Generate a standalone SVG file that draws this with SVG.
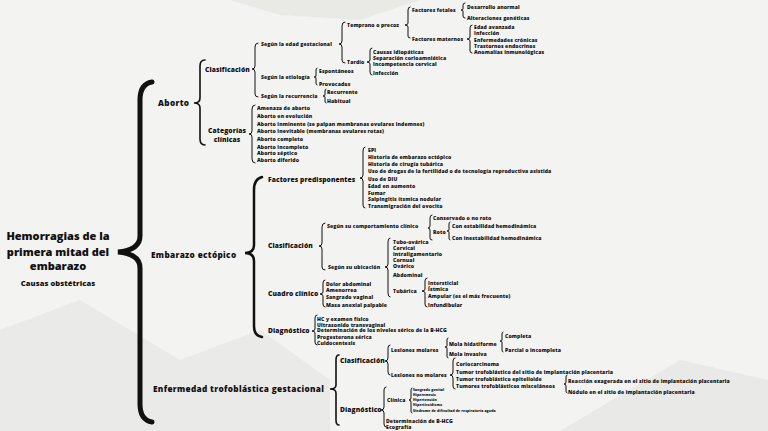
<svg xmlns="http://www.w3.org/2000/svg" width="768" height="431" viewBox="0 0 768 431">
<style>
text{font-family:"Open Sans","Liberation Sans",sans-serif;font-weight:800;fill:#111}
.s{font-size:5.1px;letter-spacing:0.12px}
.xs{font-size:3.4px;letter-spacing:0.1px}
.m{font-size:6.7px;letter-spacing:0.1px}
.l{font-size:8.2px;letter-spacing:0.35px}
.t{font-size:11px}
.b{fill:none;stroke:#111;stroke-width:1;stroke-linecap:round}
</style>
<rect width="768" height="431" fill="#f3f3f1"/>
<polygon points="0,330 80,300 180,360 260,330 330,380 330,431 0,431" fill="#e6e6e4" opacity="0.7"/>
<polygon points="560,431 680,360 768,380 768,431" fill="#e4e4e2" opacity="0.7"/>
<polygon points="230,0 420,0 360,20 280,15" fill="#e2e2e0" opacity="0.6"/>
<g id="connectors">
<path class="b" style="stroke-width:5" d="M152 82 Q140 84 140 100 L140 236 Q140 250 118 252 Q140 254 140 268 L140 404 Q140 420 152 422"/>
<path class="b" style="stroke-width:1.6" d="M205 60 Q200 60 200 66 L200 98 Q200 103 194 103 Q200 103 200 108 L200 139 Q200 145 205 145"/>
<path class="b" d="M258 43 Q255 43 255 47 L255 66 Q255 69 252 69 Q255 69 255 72 L255 94 Q255 97 258 97"/>
<path class="b" d="M345 22 Q342 22 342 26 L342 41 Q342 44 339 44 Q342 44 342 47 L342 60 Q342 63 345 63"/>
<path class="b" d="M410 7 Q408 7 408 10 L408 23 Q408 25 405 25 Q408 25 408 27 L408 36 Q408 38 410 38"/>
<path class="b" d="M465 3 Q463 3 463 5 L463 9 Q463 10 461 10 Q463 10 463 11 L463 16 Q463 18 465 18"/>
<path class="b" d="M472 25 Q470 25 470 28 L470 37 Q470 39 467 39 Q470 39 470 41 L470 51 Q470 53 472 53"/>
<path class="b" d="M372 48 Q370 48 370 51 L370 60 Q370 62 367 62 Q370 62 370 64 L370 72 Q370 75 372 75"/>
<path class="b" d="M317 68 Q316 68 316 70 L316 76 Q316 77 314 77 Q316 77 316 78 L316 83 Q316 85 317 85"/>
<path class="b" d="M326 89 Q325 89 325 91 L325 95 Q325 96 323 96 Q325 96 325 97 L325 101 Q325 103 326 103"/>
<path class="b" d="M255 105 Q252 105 252 109 L252 131 Q252 134 249 134 Q252 134 252 137 L252 159 Q252 163 255 163"/>
<path class="b" style="stroke-width:2.5" d="M262 177 Q254 179 254 190 L254 245 Q254 253 245 253 Q254 253 254 261 L254 326 Q254 336 262 337"/>
<path class="b" d="M365 147 Q363 147 363 151 L363 175 Q363 178 360 178 Q363 178 363 181 L363 205 Q363 208 365 208"/>
<path class="b" d="M325 223 Q322 223 322 227 L322 243 Q322 246 319 246 Q322 246 322 249 L322 267 Q322 270 325 270"/>
<path class="b" d="M432 215 Q430 215 430 218 L430 226 Q430 228 428 228 Q430 228 430 230 L430 238 Q430 240 432 240"/>
<path class="b" d="M450 222 Q449 222 449 224 L449 230 Q449 231 447 231 Q449 231 449 232 L449 238 Q449 240 450 240"/>
<path class="b" d="M390 238 Q388 238 388 242 L388 264 Q388 267 385 267 Q388 267 388 270 L388 293 Q388 297 390 297"/>
<path class="b" d="M427 278 Q425 278 425 281 L425 289 Q425 291 422 291 Q425 291 425 293 L425 304 Q425 307 427 307"/>
<path class="b" d="M325 280 Q323 280 323 283 L323 292 Q323 294 320 294 Q323 294 323 296 L323 304 Q323 307 325 307"/>
<path class="b" d="M317 315 Q315 315 315 318 L315 329 Q315 331 312 331 Q315 331 315 333 L315 342 Q315 345 317 345"/>
<path class="b" style="stroke-width:1.6" d="M339 355 Q336 355 336 360 L336 385 Q336 389 330 389 Q336 389 336 393 L336 420 Q336 425 339 425"/>
<path class="b" d="M390 345 Q388 345 388 348 L388 358 Q388 361 385 361 Q388 361 388 364 L388 372 Q388 375 390 375"/>
<path class="b" d="M448 338 Q447 338 447 340 L447 346 Q447 347 445 347 Q447 347 447 348 L447 356 Q447 358 448 358"/>
<path class="b" d="M503 332 Q502 332 502 334 L502 340 Q502 341 500 341 Q502 341 502 342 L502 350 Q502 352 503 352"/>
<path class="b" d="M455 358 Q453 358 453 361 L453 372 Q453 375 450 375 Q453 375 453 378 L453 386 Q453 389 455 389"/>
<path class="b" d="M567 375 Q566 375 566 377 L566 382 Q566 384 564 384 Q566 384 566 386 L566 391 Q566 393 567 393"/>
<path class="b" d="M386 387 Q384 387 384 390 L384 407 Q384 410 381 410 Q384 410 384 413 L384 424 Q384 427 386 427"/>
<path class="b" d="M412 388 Q411 388 411 390 L411 398 Q411 400 409 400 Q411 400 411 402 L411 411 Q411 413 412 413"/>
</g>
<g id="title">
<text class="t" x="58" y="240" text-anchor="middle">Hemorragias de la</text>
<text class="t" x="58" y="256" text-anchor="middle">primera mitad del</text>
<text class="t" x="58" y="270" text-anchor="middle">embarazo</text>
<text class="m" x="58" y="286" text-anchor="middle" style="font-size:7.5px">Causas obstétricas</text>
</g>
<g id="aborto">
<text class="l" x="158" y="106">Aborto</text>
<text class="m" x="205" y="72">Clasificación</text>
<text class="s" x="261" y="46">Según la edad gestacional</text>
<text class="s" x="347" y="27">Temprano o precoz</text>
<text class="s" x="412" y="12">Factores fetales</text>
<text class="s" x="467" y="9">Desarrollo anormal</text>
<text class="s" x="467" y="20">Alteraciones genéticas</text>
<text class="s" x="412" y="41">Factores maternos</text>
<text class="s" x="474" y="29">Edad avanzada</text>
<text class="s" x="474" y="35">Infección</text>
<text class="s" x="474" y="42">Enfermedades crónicas</text>
<text class="s" x="474" y="48">Trastornos endocrinos</text>
<text class="s" x="474" y="54">Anomalías inmunológicas</text>
<text class="s" x="347" y="64">Tardío</text>
<text class="s" x="373" y="54">Causas idiopáticas</text>
<text class="s" x="373" y="60">Separación corioamniótica</text>
<text class="s" x="373" y="66">Incompetencia cervical</text>
<text class="s" x="373" y="75">Infección</text>
<text class="s" x="261" y="79">Según la etiología</text>
<text class="s" x="319" y="73">Espontáneos</text>
<text class="s" x="319" y="86">Provocados</text>
<text class="s" x="261" y="98">Según la recurrencia</text>
<text class="s" x="327" y="94">Recurrente</text>
<text class="s" x="327" y="103">Habitual</text>
<text class="m" x="227" y="133" text-anchor="middle">Categorías</text>
<text class="m" x="227" y="142" text-anchor="middle">clínicas</text>
<text class="s" x="257" y="110">Amenaza de aborto</text>
<text class="s" x="257" y="118">Aborto en evolución</text>
<text class="s" x="257" y="126">Aborto inminente (se palpan membranas ovulares indemnes)</text>
<text class="s" x="257" y="133">Aborto inevitable (membranas ovulares rotas)</text>
<text class="s" x="257" y="141">Aborto completo</text>
<text class="s" x="257" y="149">Aborto incompleto</text>
<text class="s" x="257" y="155">Aborto séptico</text>
<text class="s" x="257" y="162">Aborto diferido</text>
</g>
<g id="ectopico">
<text class="l" x="151" y="258">Embarazo ectópico</text>
<text class="m" x="268" y="182">Factores predisponentes</text>
<text class="s" x="368" y="152">EPI</text>
<text class="s" x="368" y="159">Historia de embarazo ectópico</text>
<text class="s" x="368" y="166">Historia de cirugía tubárica</text>
<text class="s" x="368" y="173">Uso de drogas de la fertilidad o de tecnología reproductiva asistida</text>
<text class="s" x="368" y="181">Uso de DIU</text>
<text class="s" x="368" y="188">Edad en aumento</text>
<text class="s" x="368" y="195">Fumar</text>
<text class="s" x="368" y="201">Salpingitis ítsmica nodular</text>
<text class="s" x="368" y="208">Transmigración del ovocito</text>
<text class="m" x="268" y="248">Clasificación</text>
<text class="s" x="327" y="228">Según su comportamiento clínico</text>
<text class="s" x="433" y="220">Conservado o no roto</text>
<text class="s" x="433" y="234">Roto</text>
<text class="s" x="452" y="228">Con estabilidad hemodinámica</text>
<text class="s" x="452" y="240">Con inestabilidad hemodinámica</text>
<text class="s" x="328" y="269">Según su ubicación</text>
<text class="s" x="393" y="244">Tubo-ovárica</text>
<text class="s" x="393" y="250">Cervical</text>
<text class="s" x="393" y="256">intraligamentario</text>
<text class="s" x="393" y="262">Cornual</text>
<text class="s" x="393" y="268">Ovárico</text>
<text class="s" x="393" y="277">Abdominal</text>
<text class="s" x="393" y="293">Tubárica</text>
<text class="s" x="428" y="285">Intersticial</text>
<text class="s" x="428" y="291">Ístmica</text>
<text class="s" x="428" y="298">Ampular (es el más frecuente)</text>
<text class="s" x="428" y="307">Infundibular</text>
<text class="m" x="268" y="296">Cuadro clínico</text>
<text class="s" x="326" y="286">Dolor abdominal</text>
<text class="s" x="326" y="292">Amenorrea</text>
<text class="s" x="326" y="299">Sangrado vaginal</text>
<text class="s" x="326" y="307">Masa anexial palpable</text>
<text class="m" x="268" y="333">Diagnóstico</text>
<text class="s" x="317" y="321">HC y examen físico</text>
<text class="s" x="317" y="327">Ultrasonido transvaginal</text>
<text class="s" x="317" y="332">Determinación de los niveles sérico de la B-HCG</text>
<text class="s" x="317" y="339">Progesterona sérica</text>
<text class="s" x="317" y="345">Culdocentesis</text>
</g>
<g id="trofoblastica">
<text class="l" x="153" y="392">Enfermedad trofoblástica gestacional</text>
<text class="m" x="340" y="363">Clasificación</text>
<text class="s" x="391" y="352">Lesiones molares</text>
<text class="s" x="449" y="346">Mola hidatiforme</text>
<text class="s" x="505" y="338">Completa</text>
<text class="s" x="505" y="352">Parcial o incompleta</text>
<text class="s" x="449" y="356">Mola invasiva</text>
<text class="s" x="391" y="377">Lesiones no molares</text>
<text class="s" x="456" y="366">Coriocarcinoma</text>
<text class="s" x="456" y="374">Tumor trofoblástico del sitio de implantación placentaria</text>
<text class="s" x="456" y="381">Tumor trofoblástico epitelioide</text>
<text class="s" x="456" y="388">Tumores trofoblásticos misceláneos</text>
<text class="s" x="568" y="383">Reacción exagerada en el sitio de implantación placentaria</text>
<text class="s" x="568" y="394">Nódulo en el sitio de implantación placentaria</text>
<text class="m" x="340" y="412">Diagnóstico</text>
<text class="s" x="387" y="402">Clínica</text>
<text class="xs" x="413" y="391">Sangrado genital</text>
<text class="xs" x="413" y="396">Hiperemesis</text>
<text class="xs" x="413" y="401">Hipertensión</text>
<text class="xs" x="413" y="406">Hipertiroidismo</text>
<text class="xs" x="413" y="412">Síndrome de dificultad de respiratoria aguda</text>
<text class="s" x="386" y="423">Determinación de B-HCG</text>
<text class="s" x="386" y="429">Ecografía</text>
</g>
</svg>
